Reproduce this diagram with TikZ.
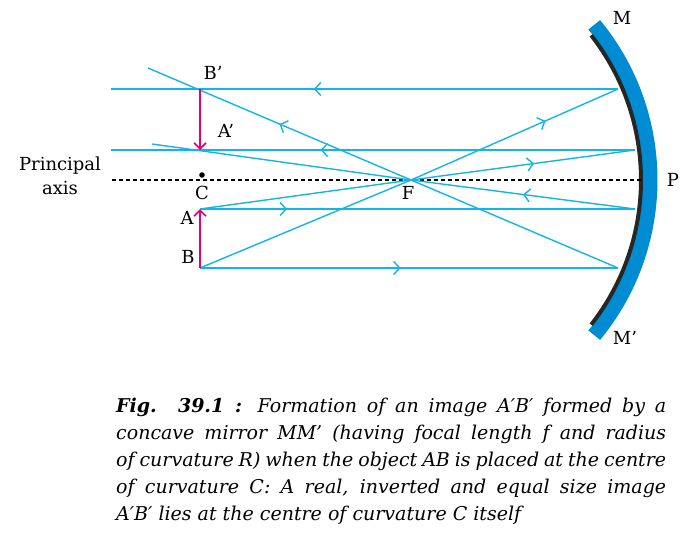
\documentclass[tikz,border=0pt]{standalone}
\usepackage{fontspec}
\setmainfont{DejaVu Serif}
\usetikzlibrary{arrows.meta,decorations.markings}
\definecolor{ray}{RGB}{20,180,230}
\definecolor{mir}{RGB}{0,140,210}
\definecolor{mag}{RGB}{225,0,130}
\tikzset{
 rayl/.style={draw=ray,line width=1.4pt},
 mk/.style={postaction={decorate},decoration={markings,mark=at position #1 with {\arrow{Straight Barb[length=6pt,width=13pt,line width=1.4pt]}}}},
 lbl/.style={font=\fontsize{18}{20}\selectfont,inner sep=0pt},
}
\begin{document}
\begin{tikzpicture}[x=1pt,y=-1pt]
\useasboundingbox (0,0) rectangle (694,538);
% mirror
\draw[mir,line width=15pt] (406,180) ++(39.5:244) arc (39.5:-39.5:244);
\draw[black!85,line width=4pt] (406,180) ++(38:235) arc (38:-38:235);
% coordinates
\coordinate (F) at (411,180);
\coordinate (Bp) at (200,89); \coordinate (Ap) at (200,150);
\coordinate (A) at (200,209); \coordinate (B) at (200,268);
\coordinate (m1) at (618,89); \coordinate (m2) at (635,150);
\coordinate (m3) at (635,209); \coordinate (m4) at (618,268);
\coordinate (L1) at (111,89); \coordinate (L2) at (111,150);
\coordinate (u1) at (148,68); \coordinate (u2) at (152,144);
% axis
\draw[dashed,line width=1.1pt,dash pattern=on 4pt off 3pt] (112,180) -- (641,180);
% rays
\path[rayl,mk=0.6] (m1) -- (L1);
\path[rayl,mk=0.6] (m2) -- (L2);
\path[rayl,mk=0.2] (A) -- (m3);
\path[rayl,mk=0.48] (B) -- (m4);
\path[rayl] (B) -- (F);
\path[rayl,mk=0.65] (F) -- (m1);
\path[rayl] (A) -- (F);
\path[rayl,mk=0.55] (F) -- (m2);
\path[rayl,mk=0.5] (m3) -- (F);
\path[rayl] (F) -- (u2);
\path[rayl] (m4) -- (F);
\path[rayl,mk=0.5] (F) -- (u1);
% object & image
\draw[mag,line width=1.6pt,-{Straight Barb[length=6pt,width=12pt,line width=1.6pt]}] (B) -- (A);
\draw[mag,line width=1.6pt,-{Straight Barb[length=6pt,width=12pt,line width=1.6pt]}] (Bp) -- (Ap);
\fill (202,175) circle (2.8);
% labels
\node[lbl] (lBp) at (213,73) {B'};
\node[lbl] (lAp) at (226,131) {A'};
\node[lbl] (lC) at (202,193) {C};
\node[lbl] (lA) at (187,218) {A};
\node[lbl] (lB) at (188,257) {B};
\node[lbl] (lF) at (408,193) {F};
\node[lbl,align=center,font=\fontsize{18}{24}\selectfont] (pa) at (60,176) {Principal\\axis};
\node[lbl] (lM) at (622,18) {M};
\node[lbl] (lP) at (673,180) {P};
\node[lbl] (lMp) at (625,338) {M'};
% caption
\node[anchor=north west,inner sep=0pt,text width=550pt,align=justify,font=\fontsize{19}{27}\selectfont\itshape] (cap) at (116,398)
{\textbf{Fig. 39.1 :} Formation of an image A′B′ formed by a\linebreak
concave mirror MM' (having focal length \textit{f} and radius\linebreak
of curvature R) when the object AB is placed at the centre\linebreak
of curvature C: A real, inverted and equal size image\linebreak
A′B′ lies at the centre of curvature C itself};
\end{tikzpicture}
\end{document}
